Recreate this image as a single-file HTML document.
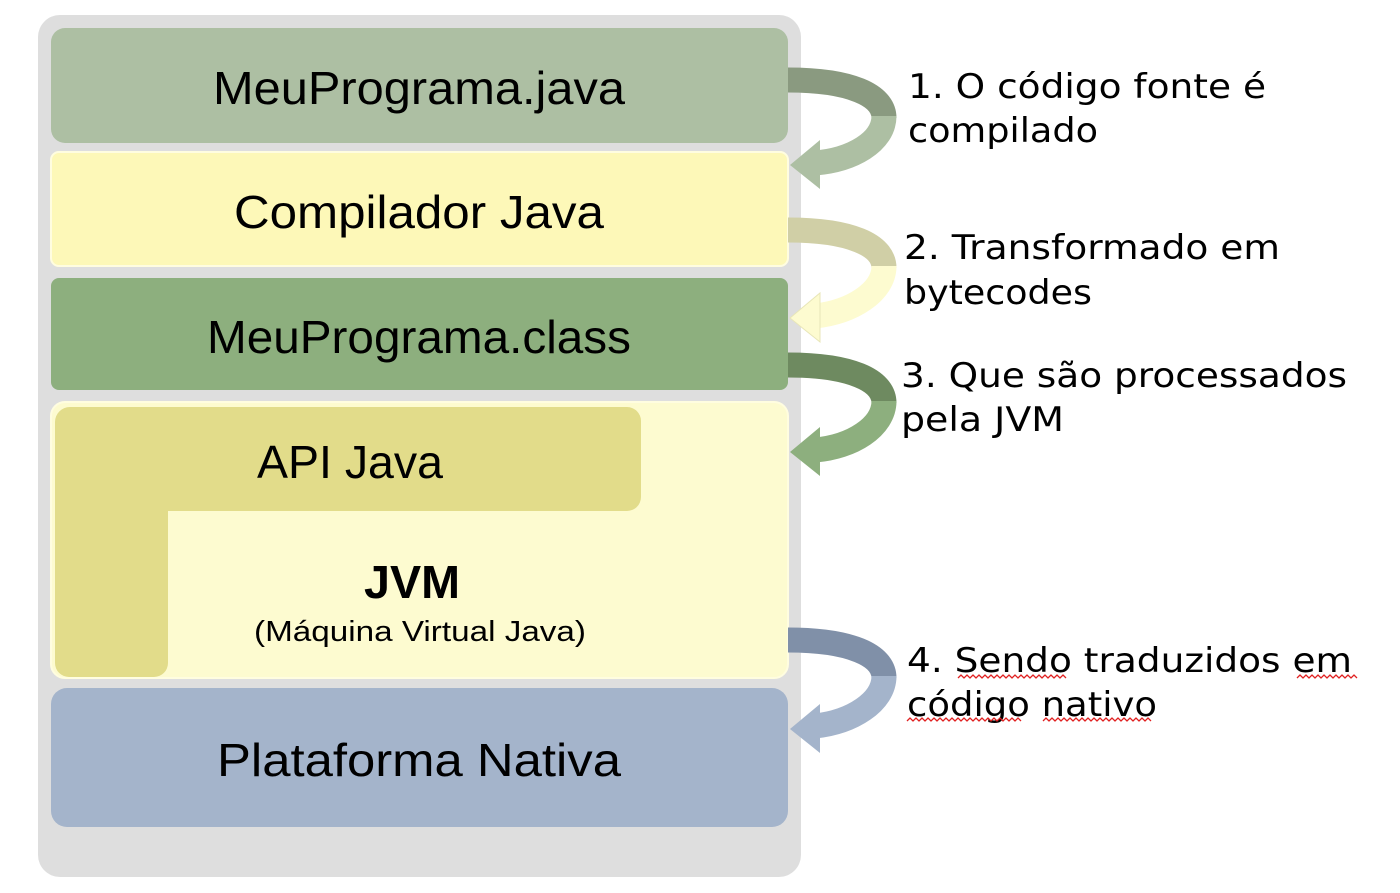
<!DOCTYPE html>
<html><head><meta charset="utf-8"><style>html,body{margin:0;padding:0;background:#fff}svg{display:block}</style></head>
<body>
<svg width="1400" height="893" viewBox="0 0 1400 893" xmlns="http://www.w3.org/2000/svg" font-family="Liberation Sans, DejaVu Sans, sans-serif">
<rect x="38" y="15" width="763" height="862" rx="22" fill="#dedede"/>
<rect x="51" y="28" width="737" height="115" rx="14" fill="#adbfa3"/>
<rect x="51" y="152" width="737" height="114" rx="8" fill="#fdf8b8" stroke="#fffde0" stroke-width="2"/>
<rect x="51" y="278" width="737" height="112" rx="8" fill="#8daf7e"/>
<rect x="51" y="402" width="737" height="276" rx="14" fill="#fdfbd0" stroke="#fffde0" stroke-width="2"/>
<path d="M70,407 H627 a14,14 0 0 1 14,14 V497 a14,14 0 0 1 -14,14 H168 V663 a14,14 0 0 1 -14,14 H69 a14,14 0 0 1 -14,-14 V422 a15,15 0 0 1 15,-15 Z" fill="#e2dc8a"/>
<rect x="51" y="688" width="737" height="139" rx="16" fill="#a4b4cb"/>

<g font-size="46" text-anchor="middle" fill="#000">
<text x="419" y="104" textLength="412" lengthAdjust="spacingAndGlyphs">MeuPrograma.java</text>
<text x="419" y="228" textLength="370" lengthAdjust="spacingAndGlyphs">Compilador Java</text>
<text x="419" y="353" textLength="424" lengthAdjust="spacingAndGlyphs">MeuPrograma.class</text>
<text x="350" y="478" textLength="186" lengthAdjust="spacingAndGlyphs">API Java</text>
<text x="412" y="598" font-weight="bold" textLength="96" lengthAdjust="spacingAndGlyphs">JVM</text>
<text x="419" y="776" textLength="404" lengthAdjust="spacingAndGlyphs">Plataforma Nativa</text>
</g>
<text x="420" y="641" font-size="29" text-anchor="middle" textLength="332" lengthAdjust="spacingAndGlyphs">(Máquina Virtual Java)</text>

<!-- arrows -->
<g fill="none" stroke-width="25">
<path d="M788,80 C850,80 884,95 884,118" stroke="#8a9a80"/>
<path d="M884,116 C884,142 852,160 815,163" stroke="#adbfa3"/>
<path d="M788,230 C850,230 884,245 884,268" stroke="#d0cfa6"/>
<path d="M884,266 C884,292 852,312 815,316" stroke="#fdfbd0"/>
<path d="M788,365 C850,365 884,380 884,403" stroke="#6e8a60"/>
<path d="M884,401 C884,427 852,447 815,450" stroke="#8daf7e"/>
<path d="M788,640 C850,640 884,655 884,678" stroke="#8090a8"/>
<path d="M884,676 C884,702 852,722 815,726" stroke="#a4b4cb"/>
</g>
<polygon points="790,165 820,140 820,189" fill="#adbfa3"/>
<polygon points="790,318 820,293 820,342" fill="#fdfbd0" stroke="#e8e6b8" stroke-width="1"/>
<polygon points="790,452 820,427 820,476" fill="#8daf7e"/>
<polygon points="790,729 820,704 820,753" fill="#a4b4cb"/>

<g font-family="DejaVu Sans, sans-serif" font-size="34" fill="#000">
<text x="908" y="98" textLength="358" lengthAdjust="spacingAndGlyphs">1. O código fonte é</text>
<text x="908" y="142" textLength="190" lengthAdjust="spacingAndGlyphs">compilado</text>
<text x="904" y="259" textLength="376" lengthAdjust="spacingAndGlyphs">2. Transformado em</text>
<text x="904" y="304" textLength="188" lengthAdjust="spacingAndGlyphs">bytecodes</text>
<text x="901" y="387" textLength="446" lengthAdjust="spacingAndGlyphs">3. Que são processados</text>
<text x="901" y="431" textLength="163" lengthAdjust="spacingAndGlyphs">pela JVM</text>
<text x="907" y="672" textLength="445" lengthAdjust="spacingAndGlyphs">4. Sendo traduzidos em</text>
<text x="907" y="716" textLength="250" lengthAdjust="spacingAndGlyphs">código nativo</text>
</g>
<g fill="none" stroke="#e02020" stroke-width="1.3">
<path d="M958,678 l3,-3 3,3 3,-3 3,3 3,-3 3,3 3,-3 3,3 3,-3 3,3 3,-3 3,3 3,-3 3,3 3,-3 3,3 3,-3 3,3 3,-3 3,3 3,-3 3,3 3,-3 3,3 3,-3 3,3 3,-3 3,3 3,-3 3,3 3,-3 3,3 3,-3 3,3 3,-3 3,3"/>
<path d="M1297,678 l3,-3 3,3 3,-3 3,3 3,-3 3,3 3,-3 3,3 3,-3 3,3 3,-3 3,3 3,-3 3,3 3,-3 3,3 3,-3 3,3 3,-3 3,3"/>
<path d="M907,721 l3,-3 3,3 3,-3 3,3 3,-3 3,3 3,-3 3,3 3,-3 3,3 3,-3 3,3 3,-3 3,3 3,-3 3,3 3,-3 3,3 3,-3 3,3 3,-3 3,3 3,-3 3,3 3,-3 3,3 3,-3 3,3 3,-3 3,3 3,-3 3,3 3,-3 3,3 3,-3 3,3 3,-3 3,3"/>
<path d="M1043,721 l3,-3 3,3 3,-3 3,3 3,-3 3,3 3,-3 3,3 3,-3 3,3 3,-3 3,3 3,-3 3,3 3,-3 3,3 3,-3 3,3 3,-3 3,3 3,-3 3,3 3,-3 3,3 3,-3 3,3 3,-3 3,3 3,-3 3,3 3,-3 3,3 3,-3 3,3 3,-3 3,3"/>
</g>
</svg>
</body></html>
